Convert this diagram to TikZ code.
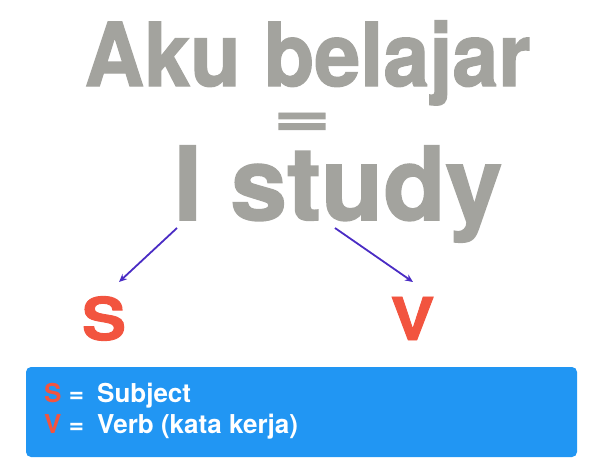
\documentclass[tikz,border=0pt]{standalone}
\usepackage{fontspec}
\setmainfont{TeX Gyre Heros}
\newfontfamily\heavyfont{TeX Gyre Heros Bold}[FakeBold=1.5]
\usetikzlibrary{arrows.meta}

\definecolor{wordgray}{HTML}{A3A39E}
\definecolor{letterred}{HTML}{F2543F}
\definecolor{arrowpurple}{HTML}{4A2CC4}
\definecolor{boxblue}{HTML}{2196F3}

\begin{document}
\begin{tikzpicture}[x=1pt, y=-1pt,
  word/.style={text=wordgray, anchor=base, inner sep=0pt,
    font=\heavyfont\fontsize{#1}{#1}\selectfont},
  letter/.style={text=letterred, anchor=base, inner sep=0pt, xscale=1.12,
    font=\heavyfont\fontsize{59}{59}\selectfont},
  legendtext/.style={text=white, anchor=base west, inner sep=0pt,
    font=\bfseries\fontsize{26}{26}\selectfont},
  pointer/.style={draw=arrowpurple, line width=1.8pt,
    -{Stealth[length=8pt, width=7pt]}}]

\useasboundingbox (0, 0) rectangle (600, 475);

% Kalimat
\node[word=88, xscale=0.94] (aku) at (307.5, 86) {Aku belajar};
\node[word=59, xscale=1.67] (equal) at (302, 136) {=};
\node[word=102] (study) at (338, 220) {I study};

% Panah ke S dan V
\coordinate (fromI) at (177, 228);
\coordinate (toS) at (119, 282);
\coordinate (fromU) at (335, 228);
\coordinate (toV) at (413, 282);

\draw[pointer] (fromI) -- (toS);
\draw[pointer] (fromU) -- (toV);

\node[letter] (subj) at (104, 340) {S};
\node[letter] (verb) at (412.5, 340) {V};

% Keterangan
\node[fill=boxblue, rounded corners=5pt, minimum width=551, minimum height=90,
  inner sep=0pt] (legend) at (301.5, 412) {};

\node[legendtext] (lineS) at (44, 402)
  {\textcolor{letterred}{S} = \hspace{6pt}Subject};
\node[legendtext] (lineV) at (44, 433)
  {\textcolor{letterred}{V} = \hspace{6pt}Verb (kata kerja)};

\end{tikzpicture}
\end{document}
